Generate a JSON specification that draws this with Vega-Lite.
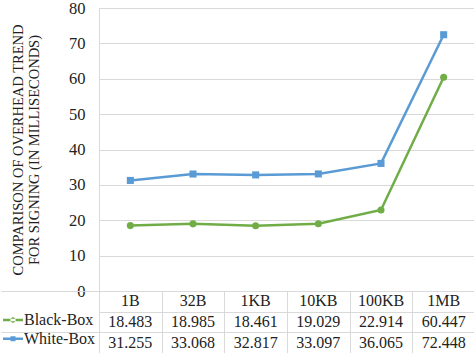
{
  "$schema": "https://vega.github.io/schema/vega-lite/v6.json",
  "padding": 0,
  "spacing": 0,
  "bounds": "flush",
  "config": {"view": {"stroke": null}, "font": "Liberation Serif"},
  "data": {"values": [
    {"size": "1B", "series": "Black-Box", "value": 18.483},
    {"size": "32B", "series": "Black-Box", "value": 18.985},
    {"size": "1KB", "series": "Black-Box", "value": 18.461},
    {"size": "10KB", "series": "Black-Box", "value": 19.029},
    {"size": "100KB", "series": "Black-Box", "value": 22.914},
    {"size": "1MB", "series": "Black-Box", "value": 60.447},
    {"size": "1B", "series": "White-Box", "value": 31.255},
    {"size": "32B", "series": "White-Box", "value": 33.068},
    {"size": "1KB", "series": "White-Box", "value": 32.817},
    {"size": "10KB", "series": "White-Box", "value": 33.097},
    {"size": "100KB", "series": "White-Box", "value": 36.065},
    {"size": "1MB", "series": "White-Box", "value": 72.448}
  ]},
  "vconcat": [
    {
      "width": 376,
      "height": 283,
      "encoding": {
        "x": {"field": "size", "type": "nominal", "scale": {"type": "band", "domain": ["1B","32B","1KB","10KB","100KB","1MB"], "paddingInner": 0, "paddingOuter": 0}, "axis": null},
        "y": {"field": "value", "type": "quantitative", "scale": {"domain": [0, 80], "nice": false},
          "axis": {"values": [0,10,20,30,40,50,60,70,80], "title": ["COMPARISON OF OVERHEAD TREND", "FOR SIGNING (IN MILLISECONDS)"],
            "titleFont": "Liberation Serif", "titleFontSize": 14.5, "titleFontWeight": "normal", "titleColor": "#222", "titleLineHeight": 16, "titlePadding": 27,
            "labelFont": "Liberation Serif", "labelFontSize": 16.5, "labelColor": "#222", "labelPadding": 14, "ticks": false,
            "domainColor": "#d9d9d9", "gridColor": "#d9d9d9", "grid": true}},
        "color": {"field": "series", "type": "nominal", "scale": {"domain": ["Black-Box", "White-Box"], "range": ["#70ad47", "#5b9bd5"]},
          "legend": {"orient": "none", "legendX": -96, "legendY": 302, "title": null, "padding": 0, "symbolSize": 400, "rowPadding": 0.7,
            "labelFont": "Liberation Serif", "labelFontSize": 16, "labelColor": "#222", "labelOffset": 1,
            "symbolStrokeWidth": 0,
            "encode": {"symbols": {"update": {
              "shape": {"signal": "datum.value === 'Black-Box' ? 'M-1,-0.12H1V0.12H-1Z M-0.27,0A0.27,0.27 0 1,0 0.27,0A0.27,0.27 0 1,0 -0.27,0Z' : 'M-1,-0.12H1V0.12H-1Z M-0.25,-0.25H0.25V0.25H-0.25Z'"},
              "fill": {"scale": "color", "field": "value"},
              "fillOpacity": {"value": 1},
              "strokeWidth": {"value": 0}
            }}}}}
      },
      "layer": [
        {"mark": {"type": "line", "strokeWidth": 2.5}},
        {"mark": {"type": "point", "filled": true, "opacity": 1},
         "encoding": {"shape": {"condition": {"test": "datum.series === 'White-Box'", "value": "square"}, "value": "circle"}, "size": {"value": 50}}}
      ]
    },
    {
      "width": 376,
      "height": 62,
      "encoding": {
        "x": {"field": "size", "type": "nominal", "scale": {"type": "band", "domain": ["1B","32B","1KB","10KB","100KB","1MB"], "paddingInner": 0, "paddingOuter": 0},
          "axis": {"labels": false, "ticks": false, "domain": false, "grid": true, "tickBand": "extent", "gridColor": "#d9d9d9", "title": null}}
      },
      "layer": [
        {
          "mark": {"type": "text", "fontSize": 16, "color": "#222", "font": "Liberation Serif"},
          "encoding": {
            "y": {"field": "series", "type": "nominal", "scale": {"type": "band", "domain": ["hdr", "Black-Box", "White-Box"], "paddingInner": 0, "paddingOuter": 0},
              "axis": {"labels": false, "ticks": true, "tickBand": "extent", "tickSize": 98,
                "tickColor": {"condition": {"test": "datum.value === 'hdr'", "value": "transparent"}, "value": "#d9d9d9"},
                "domainColor": "#d9d9d9", "grid": true, "gridColor": "#d9d9d9", "title": null}},
            "text": {"field": "value", "type": "quantitative", "format": ".3f"}
          }
        },
        {
          "transform": [{"filter": "datum.series === 'Black-Box'"}],
          "mark": {"type": "text", "fontSize": 16, "color": "#222", "font": "Liberation Serif"},
          "encoding": {
            "y": {"datum": "hdr", "type": "nominal"},
            "text": {"field": "size", "type": "nominal"}
          }
        }
      ]
    }
  ]
}
